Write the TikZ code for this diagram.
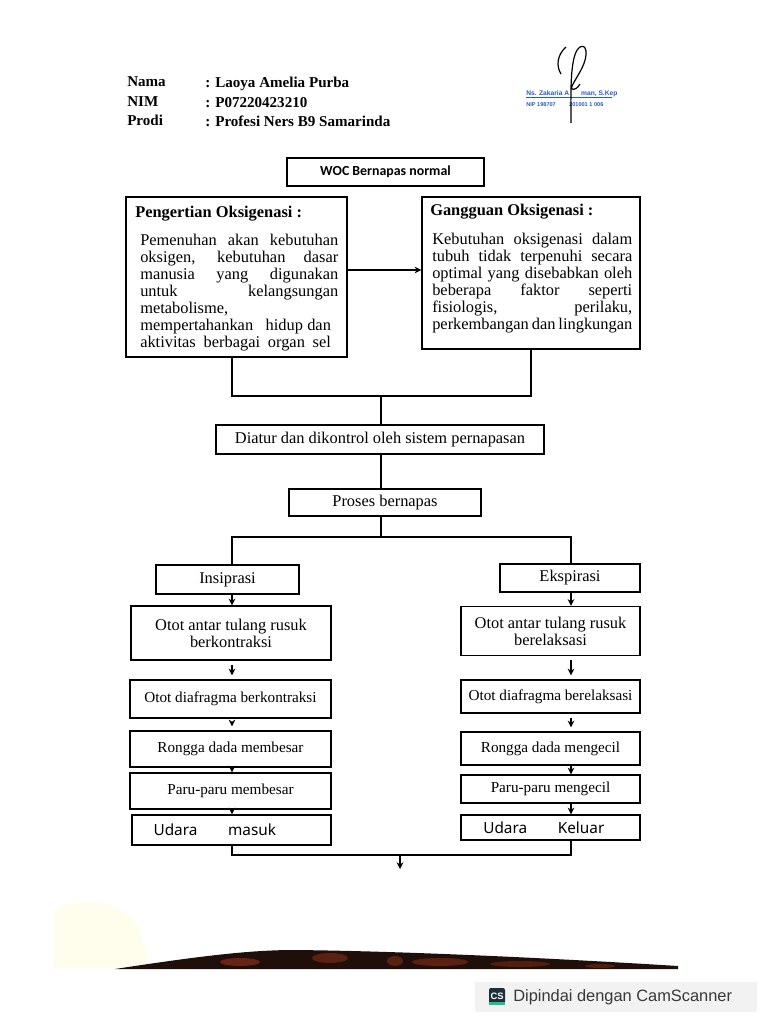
\documentclass[tikz,border=0pt]{standalone}
\usepackage{fontspec}
\setmainfont{Liberation Serif}
\newfontfamily\calib{Carlito}
\newfontfamily\sansf{Liberation Sans}
\newfontfamily\handf{Noto Sans}
\usetikzlibrary{arrows.meta}
\newcommand\bodyfont{\fontsize{12.3pt}{12.75pt}\selectfont}
\newcommand\smallbody{\fontsize{11.4pt}{13pt}\selectfont}
\newcommand\titlefont{\fontsize{12.3pt}{14pt}\selectfont\bfseries}
\newcommand\hdrfont{\fontsize{11.3pt}{13pt}\selectfont\bfseries}
\definecolor{stampblue}{RGB}{40,90,200}
\definecolor{scanedge}{RGB}{32,14,10}
\definecolor{csdark}{RGB}{28,48,60}
\definecolor{csgreen}{RGB}{40,190,140}
\begin{document}
\begin{tikzpicture}[x=0.75pt,y=-0.75pt,
  box/.style={draw, line width=1.1pt, inner sep=0pt, align=center, font=\bodyfont},
  sbox/.style={box, font=\smallbody},
  hbox/.style={box, font=\handf\fontsize{11.5pt}{13pt}\selectfont},
  ln/.style={line width=1.2pt},
  arr/.style={line width=1.1pt, -{Stealth[length=5pt,width=5pt]}},
  farr/.style={arr, shorten <=3pt, shorten >=3pt},
  txt/.style={inner sep=0pt}
]
\useasboundingbox (0,0) rectangle (768,1024);

% ---- scan artefacts ----
\fill[yellow!7] (54,910) .. controls (80,895) and (125,900) .. (140,930) -- (150,968) -- (54,968) -- cycle;
\fill[scanedge] (115,969) .. controls (200,956) and (250,950) .. (294,950)
   .. controls (400,951) and (550,958) .. (678,966) -- (678,969) -- cycle;
\fill[red!45!brown!70!black, opacity=0.6] (240,962) ellipse (20 and 4);
\fill[red!40!brown!60!black, opacity=0.6] (330,958) ellipse (18 and 5);
\fill[red!40!brown!60!black, opacity=0.6] (395,961) ellipse (8 and 5);
\fill[red!40!brown!60!black, opacity=0.6] (440,962) ellipse (28 and 4);
\fill[red!40!brown!60!black, opacity=0.5] (520,964) ellipse (30 and 3);
\fill[red!40!brown!60!black, opacity=0.5] (600,966) ellipse (15 and 2);

% ---- header ----
\node[txt, anchor=base west, font=\hdrfont] (nama) at (127,87) {Nama};
\node[txt, anchor=base west, font=\hdrfont] (nim) at (127,107) {NIM};
\node[txt, anchor=base west, font=\hdrfont] (prodi) at (127,125) {Prodi};
\node[txt, anchor=base west, font=\hdrfont] (namav) at (205,88) {: Laoya Amelia Purba};
\node[txt, anchor=base west, font=\hdrfont] (nimv) at (205,108) {: P07220423210};
\node[txt, anchor=base west, font=\hdrfont] (prodiv) at (205,127) {: Profesi Ners B9 Samarinda};

% ---- stamp and signature ----
\node[txt, anchor=base west, text=stampblue, font=\sansf\bfseries\fontsize{5pt}{6pt}\selectfont] (stamp1) at (526,95) {Ns. Zakaria A\hspace{9pt}man, S.Kep};
\draw[stampblue, line width=0.5pt] (526,97) -- (612,97);
\node[txt, anchor=base west, text=stampblue, font=\sansf\bfseries\fontsize{4.2pt}{5pt}\selectfont] (stamp2) at (526,106) {NIP 198707\hspace{10pt}201001 1 006};
\draw[line width=0.9pt] (566,47) .. controls (557,55) and (556,66) .. (561,74);
\draw[line width=0.9pt] (571,123) .. controls (571,100) and (570,75) .. (574,58)
   .. controls (577,44) and (587,42) .. (586,55)
   .. controls (585,66) and (577,76) .. (572,86)
   .. controls (570,90) and (575,92) .. (580,84);

% ---- title ----
\node[box, minimum width=147.75pt, minimum height=21pt, font=\calib\bfseries\fontsize{10.4pt}{12pt}\selectfont] (woc) at (385.5,172) {WOC Bernapas normal};

% ---- definition boxes ----
\node[box, minimum width=165.75pt, minimum height=120pt] (pengertian) at (236.5,277) {};
\node[txt, anchor=base west, font=\titlefont] (pengT) at (135,217) {Pengertian Oksigenasi :};
\node[txt, anchor=north west, align=left, font=\bodyfont] (pengB) at (140,234) {%
\makebox[148.5pt][s]{Pemenuhan akan kebutuhan}\\
\makebox[148.5pt][s]{oksigen, kebutuhan dasar}\\
\makebox[148.5pt][s]{manusia yang digunakan}\\
\makebox[148.5pt][s]{untuk kelangsungan}\\
metabolisme,\\
\makebox[143pt][s]{mempertahankan\ \ \ hidup dan}\\
\makebox[143pt][s]{aktivitas berbagai organ sel}};

\node[box, minimum width=163.5pt, minimum height=114pt] (gangguan) at (531,273) {};
\node[txt, anchor=base west, font=\titlefont] (gangT) at (430,215) {Gangguan Oksigenasi :};
\node[txt, anchor=north west, align=left, font=\bodyfont] (gangB) at (432,233) {%
\makebox[150pt][s]{Kebutuhan oksigenasi dalam}\\
\makebox[150pt][s]{tubuh tidak terpenuhi secara}\\
\makebox[150pt][s]{optimal yang disebabkan oleh}\\
\makebox[150pt][s]{beberapa faktor seperti}\\
\makebox[150pt][s]{fisiologis, perilaku,}\\
\makebox[150pt][s]{perkembangan dan lingkungan}};

\draw[line width=1.8pt, -{Stealth[length=5pt,width=5pt]}] ([yshift=5.25pt]pengertian.east) -- ([yshift=2.25pt]gangguan.west);

% ---- central chain ----
\node[box, minimum width=246pt, minimum height=21.75pt] (diatur) at (380,439.5) {Diatur dan dikontrol oleh sistem pernapasan};
\node[box, minimum width=144pt, minimum height=20.25pt] (proses) at (385,502.5) {Proses bernapas};

\coordinate (colL) at (232,0);
\coordinate (colR) at (571,0);
\coordinate (jA) at (381,396);
\coordinate (jB) at (381,537);
\coordinate (jC) at (400,855);
\coordinate (fin) at (400,869);

\draw[ln] (pengertian.south -| colL) |- (jA) -| (gangguan.south);
\draw[ln] (jA) -- (diatur.north -| jA);
\draw[ln] (diatur.south -| jA) -- (proses.north -| jA);
\draw[ln] (proses.south -| jB) -- (jB);

% ---- inspiration column ----
\node[box, minimum width=107.25pt, minimum height=21.75pt] (insp) at (227.5,579.5) {Insiprasi};
\node[box, minimum width=150pt, minimum height=40.5pt] (L1) at (231,633) {Otot antar tulang rusuk\\berkontraksi};
\node[sbox, minimum width=150.75pt, minimum height=28.5pt] (L2) at (230.5,699) {Otot diafragma berkontraksi};
\node[sbox, minimum width=150.75pt, minimum height=27pt] (L3) at (230.5,749) {Rongga dada membesar};
\node[sbox, minimum width=150.75pt, minimum height=27pt] (L4) at (230.5,791) {Paru-paru membesar};
\node[hbox, minimum width=149.25pt, minimum height=22.5pt] (L5) at (231.5,830) {Udara\qquad masuk\hspace{25pt}};

% ---- expiration column ----
\node[box, minimum width=105pt, minimum height=21pt] (eksp) at (570,578) {Ekspirasi};
\node[box, minimum width=134.25pt, minimum height=36.75pt] (R1) at (550.5,631) {Otot antar tulang rusuk\\berelaksasi};
\node[sbox, minimum width=134.25pt, minimum height=24.75pt] (R2) at (550.5,696.5) {Otot diafragma berelaksasi};
\node[sbox, minimum width=134.25pt, minimum height=24.75pt] (R3) at (550.5,748.5) {Rongga dada mengecil};
\node[sbox, minimum width=134.25pt, minimum height=21pt] (R4) at (550.5,789) {Paru-paru mengecil};
\node[hbox, minimum width=134.25pt, minimum height=18.75pt] (R5) at (550.5,827.5) {Udara\qquad Keluar\hspace{10pt}};

\draw[ln] (insp.north -| colL) |- (jB) -| (eksp.north -| colR);

\draw[arr] (insp.south -| colL) -- (L1.north -| colL);
\draw[farr] (L1.south -| colL) -- (L2.north -| colL);
\draw[farr] (L2.south -| colL) -- (L3.north -| colL);
\draw[arr] (L3.south -| colL) -- (L4.north -| colL);
\draw[arr] (L4.south -| colL) -- (L5.north -| colL);

\draw[arr] (eksp.south -| colR) -- (R1.north -| colR);
\draw[farr] (R1.south -| colR) -- (R2.north -| colR);
\draw[farr] (R2.south -| colR) -- (R3.north -| colR);
\draw[arr] (R3.south -| colR) -- (R4.north -| colR);
\draw[arr] (R4.south -| colR) -- (R5.north -| colR);

\draw[ln] (L5.south -| colL) |- (jC) -| (R5.south -| colR);
\draw[arr] (jC) -- (fin);

% ---- watermark ----
\node[fill=black!5, minimum width=211.5pt, minimum height=22.5pt, inner sep=0pt] (csbar) at (616,997) {};
\node[fill=csdark, rounded corners=1.5pt, minimum width=12pt, minimum height=12pt, inner sep=0pt, text=white, font=\sansf\bfseries\fontsize{7pt}{7pt}\selectfont] (cslogo) at (497,996) {CS};
\fill[csgreen] ([yshift=-0.5pt]cslogo.south west) rectangle ([yshift=1.5pt]cslogo.south east);
\node[txt, anchor=west, text=black!78, font=\sansf\fontsize{12.3pt}{14pt}\selectfont] (cstext) at (513,997) {Dipindai dengan CamScanner};
\end{tikzpicture}
\end{document}
